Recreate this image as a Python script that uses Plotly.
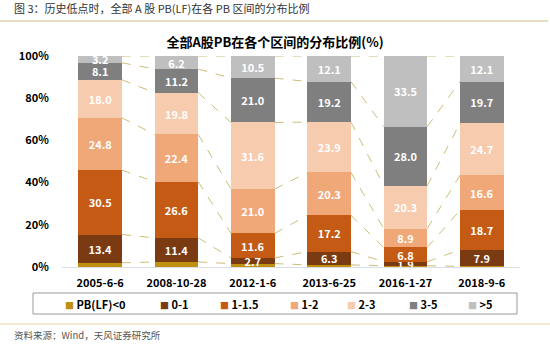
import plotly.graph_objects as go

# Distribution of all A-share stocks across PB(LF) ranges at historical lows (%)
dates = ["2005-6-6", "2008-10-28", "2012-1-6", "2013-6-25", "2016-1-27", "2018-9-6"]
ranges = ["PB(LF)<0", "0-1", "1-1.5", "1-2", "2-3", "3-5", ">5"]

pb_neg = [2.0, 2.4, 1.6, 1.0, 0.6, 0.3]
pb_0_1 = [13.4, 11.4, 2.7, 6.3, 1.9, 7.9]
pb_1_15 = [30.5, 26.6, 11.6, 17.2, 6.8, 18.7]
pb_15_2 = [24.8, 22.4, 21.0, 20.3, 8.9, 16.6]
pb_2_3 = [18.0, 19.8, 31.6, 23.9, 20.3, 24.7]
pb_3_5 = [8.1, 11.2, 21.0, 19.2, 28.0, 19.7]
pb_gt5 = [3.2, 6.2, 10.5, 12.1, 33.5, 12.1]

y_ticks = [0, 20, 40, 60, 80, 100]
y_tick_text = ["0%", "20%", "40%", "60%", "80%", "100%"]

series = [pb_neg, pb_0_1, pb_1_15, pb_15_2, pb_2_3, pb_3_5, pb_gt5]
colors = ["#C09010", "#7A3A12", "#C55A14", "#F0A878", "#F7CBAE", "#7F7F7F", "#BFBFBF"]
show_labels = [False, True, True, True, True, True, True]

FONT = "Noto Sans CJK SC"
BAR_W = 0.57
xpos = list(range(len(dates)))

# plot-area geometry in pixels (used to place header/footer/legend in paper coords)
L, R, T, B = 62, 30, 56, 79
PW, PH = 550 - L - R, 346 - T - B


def px_x(x):
    return (x - L) / PW


def px_y(y):
    return (346 - B - y) / PH


fig = go.Figure()

for name, vals, col, lab in zip(ranges, series, colors, show_labels):
    fig.add_trace(go.Bar(
        x=xpos, y=vals, name=name, width=BAR_W,
        marker=dict(color=col, line=dict(width=0)),
        text=[f"{v:.1f}" for v in vals] if lab else None,
        textposition="inside" if lab else "none",
        insidetextanchor="middle", textangle=0,
        constraintext="none",
        textfont=dict(family=FONT, size=11, color="white", weight="bold"),
        hoverinfo="skip", showlegend=False,
    ))

# dashed series lines joining the top of each segment between neighbouring bars
cum = [0.0] * len(dates)
tops = []
for vals in series:
    cum = [c + v for c, v in zip(cum, vals)]
    tops.append(list(cum))
for top in tops:
    for i in range(len(dates) - 1):
        fig.add_trace(go.Scatter(
            x=[i + BAR_W / 2, i + 1 - BAR_W / 2], y=[top[i], top[i + 1]],
            mode="lines", line=dict(color="#CDBE78", width=1, dash="dash"),
            showlegend=False, hoverinfo="skip",
        ))

fig.update_layout(
    width=550, height=346,
    barmode="stack",
    paper_bgcolor="white", plot_bgcolor="white",
    margin=dict(l=L, r=R, t=T, b=B),
    font=dict(family=FONT, color="#000000"),
    title=dict(text="<b>全部A股PB在各个区间的分布比例(%)</b>", x=0.5, xanchor="center",
               xref="container", y=1 - 42 / 346, yanchor="middle",
               font=dict(family=FONT, size=13, color="#000000")),
    xaxis=dict(
        range=[-0.5, 5.5], tickvals=xpos, ticktext=dates,
        showline=True, linecolor="#D9DDE6", linewidth=1,
        ticks="outside", ticklen=6, tickcolor="rgba(0,0,0,0)",
        tickfont=dict(family=FONT, size=11, color="#000000", weight="bold"),
        showgrid=False, zeroline=False,
    ),
    yaxis=dict(
        range=[0, 100], tickvals=y_ticks, ticktext=y_tick_text,
        showgrid=False, zeroline=False, showline=False,
        ticks="outside", ticklen=10, tickcolor="rgba(0,0,0,0)",
        tickfont=dict(family=FONT, size=11, color="#000000", weight="bold"),
    ),
    showlegend=False,
)

# legend: boxed row of colour keys below the axis
legend_left = [63, 158, 218, 288, 345, 407, 466]
fig.add_shape(type="rect", xref="paper", yref="paper",
              x0=px_x(33), x1=px_x(517), y0=px_y(314), y1=px_y(293),
              line=dict(color="#9A9A9A", width=1), fillcolor="rgba(0,0,0,0)")
for name, col, lx in zip(ranges, colors, legend_left):
    fig.add_annotation(
        text=f'<span style="color:{col};font-size:9px">■</span> <b>{name}</b>',
        xref="paper", yref="paper", x=px_x(lx), y=px_y(304),
        xanchor="left", yanchor="middle", showarrow=False,
        font=dict(family=FONT, size=11, color="#000000"))

# report header and source footer
fig.add_annotation(text="图 3：历史低点时，全部 A 股 PB(LF)在各 PB 区间的分布比例",
                   xref="paper", yref="paper", x=px_x(12), y=px_y(8),
                   xanchor="left", yanchor="middle", showarrow=False,
                   font=dict(family=FONT, size=11, color="#333333"))
fig.add_shape(type="line", xref="paper", yref="paper",
              x0=px_x(0), x1=px_x(548), y0=px_y(21), y1=px_y(21),
              line=dict(color="#DCD3AE", width=1.5))
fig.add_shape(type="line", xref="paper", yref="paper",
              x0=px_x(0), x1=px_x(550), y0=px_y(324), y1=px_y(324),
              line=dict(color="#F3CFA8", width=1))
fig.add_annotation(text="资料来源：Wind，天风证券研究所",
                   xref="paper", yref="paper", x=px_x(12), y=px_y(335),
                   xanchor="left", yanchor="middle", showarrow=False,
                   font=dict(family=FONT, size=9.5, color="#555555"))

fig.write_html("out.html")
